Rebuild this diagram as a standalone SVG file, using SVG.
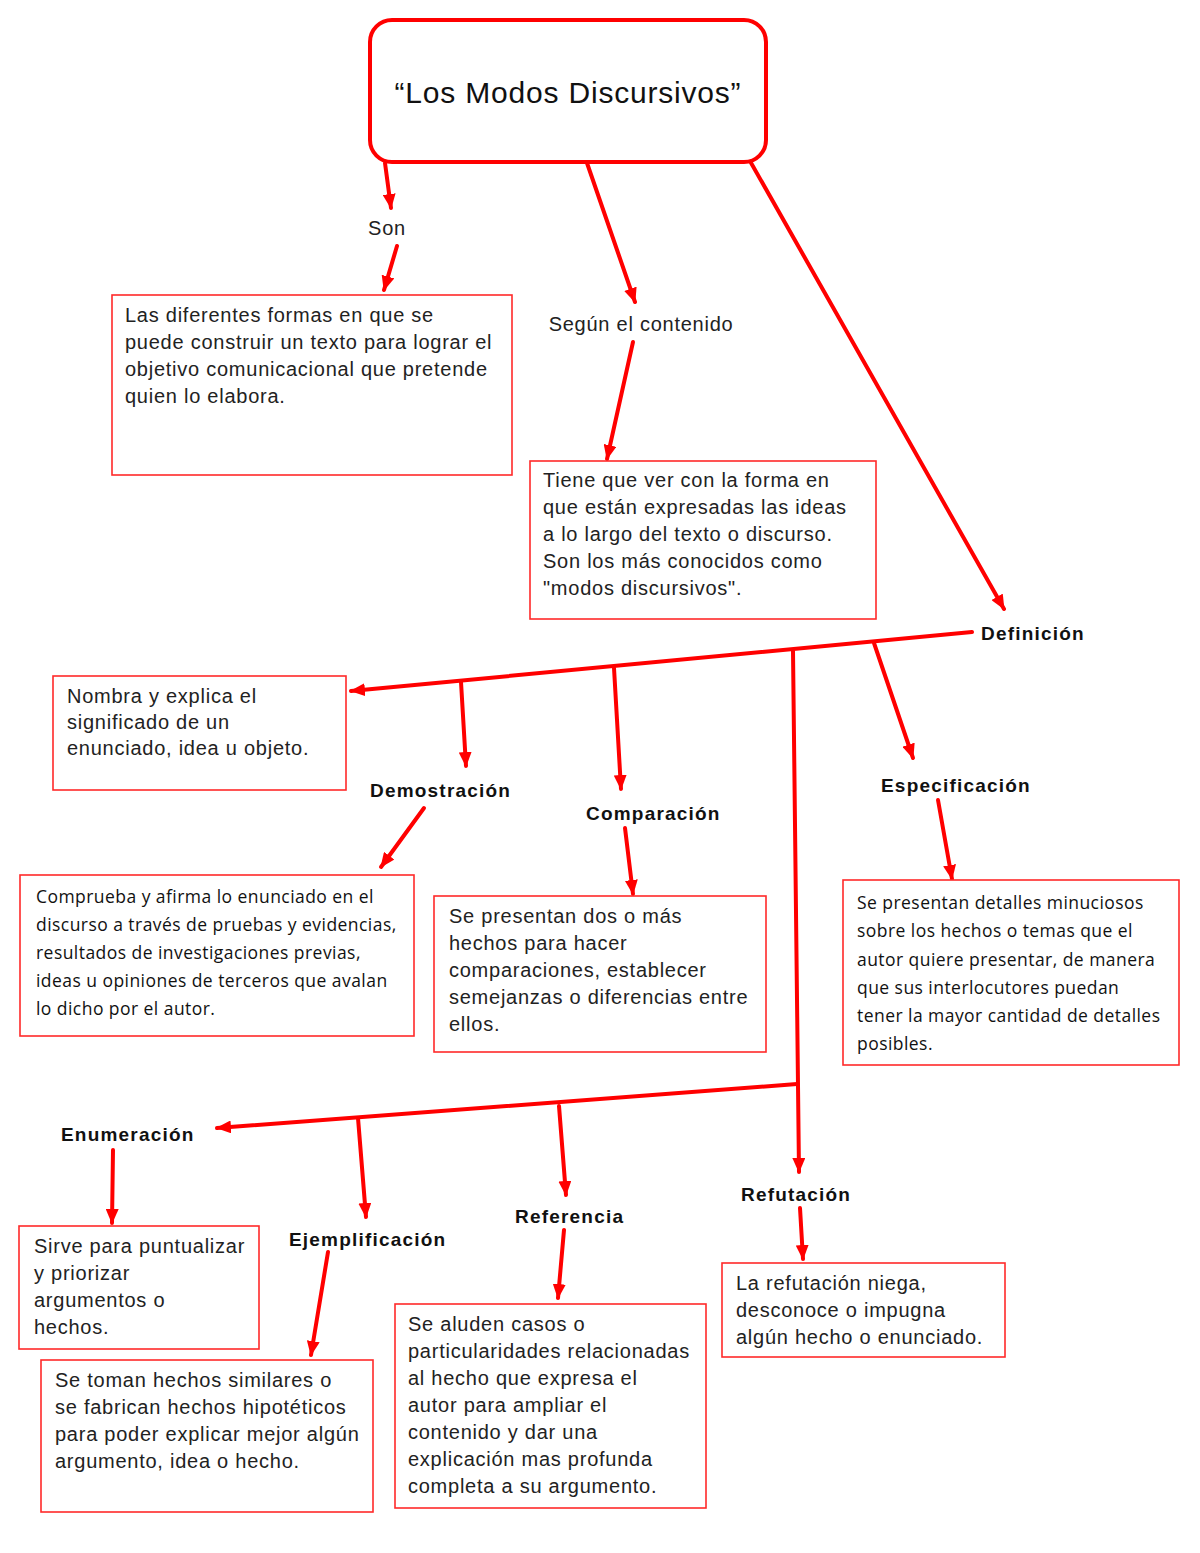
<svg xmlns="http://www.w3.org/2000/svg" width="1200" height="1553" viewBox="0 0 1200 1553">
<defs>
<marker id="ah" markerUnits="userSpaceOnUse" markerWidth="15" markerHeight="13" refX="14" refY="6.5" orient="auto" viewBox="0 0 15 13">
<path d="M0,0 L15,6.5 L0,13 z" fill="#ff0000"/>
</marker>
</defs>
<style>
.bg{fill:#ffffff}
.box{fill:#ffffff;stroke:#ff2a2a;stroke-width:1.6}
.title{fill:#ffffff;stroke:#ff0000;stroke-width:4}
.t{font-family:"Liberation Sans",Arial,sans-serif;font-size:20px;fill:#222;letter-spacing:0.75px}
.c{font-family:"Open Sans","Noto Sans",sans-serif;font-size:17.5px;fill:#111;letter-spacing:0.45px}
.lab{font-family:"Liberation Sans",Arial,sans-serif;font-size:19px;font-weight:bold;fill:#111;letter-spacing:1.2px}
.conn line{stroke:#ff0000;stroke-width:4;fill:none;stroke-linecap:round}
.a{marker-end:url(#ah)}
</style>
<rect class="bg" x="0" y="0" width="1200" height="1553"/>

<g id="connectors" class="conn">
<line class="a" x1="385" y1="163" x2="391" y2="208"/>
<line class="a" x1="397" y1="246" x2="384" y2="290"/>
<line class="a" x1="587" y1="163" x2="635" y2="302"/>
<line class="a" x1="633" y1="342" x2="607" y2="459"/>
<line class="a" x1="750" y1="161" x2="1004" y2="609"/>
<line class="a" x1="972" y1="632" x2="351" y2="691"/>
<line class="a" x1="461" y1="682" x2="466" y2="766"/>
<line class="a" x1="614" y1="668" x2="621" y2="789"/>
<line class="a" x1="874" y1="643" x2="913" y2="758"/>
<line class="a" x1="793" y1="651" x2="799" y2="1172"/>
<line class="a" x1="424" y1="808" x2="381" y2="867"/>
<line class="a" x1="625" y1="828" x2="633" y2="894"/>
<line class="a" x1="938" y1="800" x2="952" y2="879"/>
<line class="a" x1="797" y1="1084" x2="217" y2="1128"/>
<line class="a" x1="113" y1="1150" x2="112" y2="1223"/>
<line class="a" x1="358" y1="1118" x2="366" y2="1217"/>
<line class="a" x1="328" y1="1252" x2="311" y2="1355"/>
<line class="a" x1="559" y1="1106" x2="566" y2="1195"/>
<line class="a" x1="564" y1="1230" x2="558" y2="1298"/>
<line class="a" x1="800" y1="1208" x2="803" y2="1259"/>
</g>

<g id="title">
<rect class="title" x="370" y="20" width="396" height="142" rx="22"/>
<text x="568" y="103" text-anchor="middle" style="font-family:'Liberation Sans',Arial,sans-serif;font-size:30px;fill:#111;letter-spacing:0.8px">“Los Modos Discursivos”</text>
</g>

<g id="son"><text class="t" x="387" y="235" text-anchor="middle">Son</text></g>

<g id="box-formas">
<rect class="box" x="112" y="295" width="400" height="180"/>
<text class="t" x="125" y="322">Las diferentes formas en que se</text>
<text class="t" x="125" y="349">puede construir un texto para lograr el</text>
<text class="t" x="125" y="376">objetivo comunicacional que pretende</text>
<text class="t" x="125" y="403">quien lo elabora.</text>
</g>

<g id="segun"><text class="t" x="641" y="331" text-anchor="middle">Según el contenido</text></g>

<g id="box-forma">
<rect class="box" x="530" y="461" width="346" height="158"/>
<text class="t" x="543" y="487">Tiene que ver con la forma en</text>
<text class="t" x="543" y="514">que están expresadas las ideas</text>
<text class="t" x="543" y="541">a lo largo del texto o discurso.</text>
<text class="t" x="543" y="568">Son los más conocidos como</text>
<text class="t" x="543" y="595">"modos discursivos".</text>
</g>

<g id="definicion"><text class="lab" x="981" y="640">Definición</text></g>

<g id="box-definicion">
<rect class="box" x="53" y="676" width="293" height="114"/>
<text class="t" x="67" y="703">Nombra y explica el</text>
<text class="t" x="67" y="729">significado de un</text>
<text class="t" x="67" y="755">enunciado, idea u objeto.</text>
</g>

<g id="demostracion"><text class="lab" x="370" y="797">Demostración</text></g>
<g id="comparacion"><text class="lab" x="586" y="820">Comparación</text></g>
<g id="especificacion"><text class="lab" x="881" y="792">Especificación</text></g>

<g id="box-demostracion">
<rect class="box" x="20" y="875" width="394" height="161"/>
<text class="c" x="36" y="903">Comprueba y afirma lo enunciado en el</text>
<text class="c" x="36" y="931">discurso a través de pruebas y evidencias,</text>
<text class="c" x="36" y="959">resultados de investigaciones previas,</text>
<text class="c" x="36" y="987">ideas u opiniones de terceros que avalan</text>
<text class="c" x="36" y="1015">lo dicho por el autor.</text>
</g>

<g id="box-comparacion">
<rect class="box" x="434" y="896" width="332" height="156"/>
<text class="t" x="449" y="923">Se presentan dos o más</text>
<text class="t" x="449" y="950">hechos para hacer</text>
<text class="t" x="449" y="977">comparaciones, establecer</text>
<text class="t" x="449" y="1004">semejanzas o diferencias entre</text>
<text class="t" x="449" y="1031">ellos.</text>
</g>

<g id="box-especificacion">
<rect class="box" x="843" y="880" width="336" height="185"/>
<text class="c" x="857" y="909">Se presentan detalles minuciosos</text>
<text class="c" x="857" y="937">sobre los hechos o temas que el</text>
<text class="c" x="857" y="966">autor quiere presentar, de manera</text>
<text class="c" x="857" y="994">que sus interlocutores puedan</text>
<text class="c" x="857" y="1022">tener la mayor cantidad de detalles</text>
<text class="c" x="857" y="1050">posibles.</text>
</g>

<g id="enumeracion"><text class="lab" x="61" y="1141">Enumeración</text></g>
<g id="ejemplificacion"><text class="lab" x="289" y="1246">Ejemplificación</text></g>
<g id="referencia"><text class="lab" x="515" y="1223">Referencia</text></g>
<g id="refutacion"><text class="lab" x="741" y="1201">Refutación</text></g>

<g id="box-enumeracion">
<rect class="box" x="19" y="1226" width="240" height="123"/>
<text class="t" x="34" y="1253">Sirve para puntualizar</text>
<text class="t" x="34" y="1280">y priorizar</text>
<text class="t" x="34" y="1307">argumentos o</text>
<text class="t" x="34" y="1334">hechos.</text>
</g>

<g id="box-ejemplificacion">
<rect class="box" x="41" y="1360" width="332" height="152"/>
<text class="t" x="55" y="1387">Se toman hechos similares o</text>
<text class="t" x="55" y="1414">se fabrican hechos hipotéticos</text>
<text class="t" x="55" y="1441">para poder explicar mejor algún</text>
<text class="t" x="55" y="1468">argumento, idea o hecho.</text>
</g>

<g id="box-referencia">
<rect class="box" x="395" y="1304" width="311" height="204"/>
<text class="t" x="408" y="1331">Se aluden casos o</text>
<text class="t" x="408" y="1358">particularidades relacionadas</text>
<text class="t" x="408" y="1385">al hecho que expresa el</text>
<text class="t" x="408" y="1412">autor para ampliar el</text>
<text class="t" x="408" y="1439">contenido y dar una</text>
<text class="t" x="408" y="1466">explicación mas profunda</text>
<text class="t" x="408" y="1493">completa a su argumento.</text>
</g>

<g id="box-refutacion">
<rect class="box" x="722" y="1263" width="283" height="94"/>
<text class="t" x="736" y="1290">La refutación niega,</text>
<text class="t" x="736" y="1317">desconoce o impugna</text>
<text class="t" x="736" y="1344">algún hecho o enunciado.</text>
</g>
</svg>
